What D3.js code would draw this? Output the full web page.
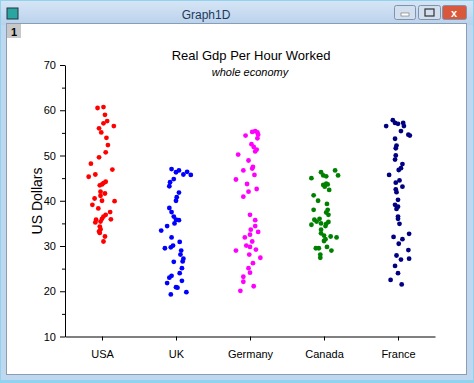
<!DOCTYPE html>
<html><head><meta charset="utf-8">
<script src="https://cdn.jsdelivr.net/npm/d3@7"></script>
<style>body{margin:0;background:#fff}svg{display:block}text{font-family:Arial,"Liberation Sans",sans-serif}</style>
</head><body>
<script>
const categories = ["USA","UK","Germany","Canada","France"];
const colors = ["#ff0000","#0000ff","#ff00ff","#008000","#000080"];
const yTicks = [10,20,30,40,50,60,70];
const usaValues = [60.5,60.7,59.0,57.6,57.1,56.0,56.5,55.1,53.9,52.3,50.7,49.6,48.2,46.9,45.8,45.3,44.2,43.9,43.6,43.4,42.0,41.6,41.1,40.5,40.0,39.9,39.1,38.3,37.5,36.9,36.5,35.9,35.8,36.0,35.4,35.2,34.3,33.7,33.2,32.9,32.1,31.0];
const usaJitter = [-0.06,0.02,0.04,0.07,0.02,-0.04,0.16,-0.01,0.06,0.08,0.05,-0.04,-0.15,0.14,-0.09,-0.18,0.05,0.02,0.0,-0.03,-0.02,0.04,-0.02,-0.10,0.0,0.17,-0.13,-0.05,0.11,0.05,0.02,0.12,-0.08,0.0,-0.02,-0.09,-0.03,-0.02,-0.04,-0.03,0.04,0.02];
const ukValues = [47.0,46.3,46.7,45.8,46.4,45.7,44.8,44.1,43.2,41.8,40.8,40.0,38.4,37.5,36.5,35.8,35.7,35.0,34.4,33.4,31.9,30.9,30.1,29.7,29.5,29.0,28.1,27.2,26.6,26.5,25.1,24.0,23.4,23.0,22.3,21.8,20.9,20.8,19.8,19.3];
const ukJitter = [-0.06,0.0,0.04,0.10,0.15,0.20,-0.03,-0.08,-0.09,0.04,0.01,0.0,-0.09,-0.06,-0.03,0.0,0.04,-0.02,-0.12,-0.20,-0.06,0.05,-0.04,-0.07,-0.15,0.07,0.06,0.10,0.09,-0.03,0.08,0.05,-0.06,-0.09,0.08,-0.12,0.0,0.02,0.14,-0.07];
const germanyValues = [55.2,55.4,55.1,54.6,54.4,53.8,52.5,51.9,51.3,50.9,50.2,48.9,47.5,47.1,46.7,45.7,44.7,43.7,42.6,42.0,40.9,36.9,35.7,34.4,33.6,33.1,32.5,31.9,31.0,30.1,29.8,29.2,29.0,28.1,27.4,26.2,25.1,24.1,23.2,22.1,21.1,20.1];
const germanyJitter = [0.03,0.07,0.10,0.11,-0.06,0.10,0.02,0.05,0.09,0.07,-0.16,-0.02,0.04,0.03,-0.09,0.06,-0.19,-0.04,0.09,-0.02,-0.09,0.0,0.07,0.07,0.01,0.11,0.0,-0.07,0.03,-0.05,0.0,0.08,-0.19,-0.01,0.14,0.04,-0.02,0.0,-0.09,-0.09,0.05,-0.13];
const canadaValues = [46.7,45.6,46.3,45.6,45.4,45.0,43.8,43.5,43.6,43.1,42.4,41.2,40.0,39.3,38.0,38.0,37.4,36.9,36.0,35.8,35.4,35.3,35.0,34.9,34.7,34.4,33.6,32.8,32.3,32.1,31.9,31.5,31.1,29.5,29.5,29.8,29.0,28.1,27.4];
const canadaJitter = [0.15,0.19,-0.04,-0.01,0.03,-0.17,0.03,-0.01,0.05,0.01,0.07,-0.14,-0.08,0.04,0.05,-0.14,0.03,0.06,-0.06,-0.13,-0.10,0.06,-0.04,0.03,-0.17,0.02,-0.04,-0.04,0.0,0.09,0.17,0.02,0.0,-0.11,-0.07,0.04,0.10,-0.05,-0.05];
const franceValues = [57.8,57.2,57.0,57.2,56.5,56.5,55.4,54.6,54.4,53.7,52.2,51.6,50.0,49.1,48.1,47.2,46.8,45.7,44.5,44.0,43.1,42.5,41.9,40.2,39.1,38.7,38.2,36.5,36.0,34.9,32.7,32.0,31.5,30.5,29.1,27.9,27.0,27.2,25.6,24.0,22.5,21.5];
const franceJitter = [-0.07,-0.04,0.0,0.07,0.08,-0.16,0.04,0.14,0.16,-0.04,-0.02,-0.03,-0.03,-0.04,0.06,0.04,0.01,-0.12,0.02,-0.03,0.06,-0.03,-0.02,0.0,-0.04,0.0,-0.02,0.0,0.0,0.02,0.15,-0.06,0.06,0.01,0.14,-0.02,0.04,0.15,-0.04,0.0,-0.10,0.05];
const seriesValues = [usaValues,ukValues,germanyValues,canadaValues,franceValues];
const seriesJitter = [usaJitter,ukJitter,germanyJitter,canadaJitter,franceJitter];

const W=474,H=383;
const svg=d3.select("body").append("svg").attr("width",W).attr("height",H);
const defs=svg.append("defs");
const g1=defs.append("linearGradient").attr("id","tb").attr("x1",0).attr("y1",0).attr("x2",0).attr("y2",1);
g1.append("stop").attr("offset","0%").attr("stop-color","#d6e5f5");
g1.append("stop").attr("offset","100%").attr("stop-color","#b9d1ec");
// window frame
svg.append("rect").attr("x",0).attr("y",0).attr("width",W).attr("height",H).attr("fill","#8fd3ef");
svg.append("rect").attr("x",1).attr("y",1).attr("width",W-2).attr("height",H-4).attr("fill","#bfd7ef");
svg.append("rect").attr("x",1).attr("y",1).attr("width",W-2).attr("height",24).attr("fill","url(#tb)");
svg.append("rect").attr("x",6.5).attr("y",23.5).attr("width",460).attr("height",351).attr("fill","#ffffff").attr("stroke","#8a9db2");
// icon
svg.append("rect").attr("x",7).attr("y",8).attr("width",11).attr("height",11).attr("fill","#2aa6a0").attr("stroke","#234").attr("stroke-width",1);
svg.append("text").attr("x",206).attr("y",19).attr("text-anchor","middle").attr("font-size",12).attr("fill","#1e395b").text("Graph1D");
// buttons
[[394,21,"#d2dfee"],[418,22,"#d2dfee"],[442,24,"#d9573a"]].forEach(b=>{
  svg.append("rect").attr("x",b[0]+0.5).attr("y",5.5).attr("width",b[1]).attr("height",14).attr("rx",2).attr("fill",b[2]).attr("stroke","#7f93ad");
});
svg.append("rect").attr("x",401).attr("y",13).attr("width",8).attr("height",3).attr("fill","#fff").attr("stroke","#555").attr("stroke-width",0.5);
svg.append("rect").attr("x",425).attr("y",9).attr("width",9).attr("height",7).attr("fill","none").attr("stroke","#333").attr("stroke-width",1.2);
svg.append("text").attr("x",454).attr("y",17).attr("text-anchor","middle").attr("font-size",11).attr("font-weight","bold").attr("fill","#fff").text("x");
// layer box
svg.append("rect").attr("x",7).attr("y",24).attr("width",14).attr("height",14).attr("fill","#c8c8c8");
svg.append("text").attr("x",14).attr("y",35.5).attr("text-anchor","middle").attr("font-size",11).attr("font-weight","bold").attr("fill","#000").text("1");

// scales
const x=d3.scaleLinear().domain([0.5,5.5]).range([65,435]);
const y=d3.scaleLinear().domain([10,70]).range([336.5,65]);

const xAxis=svg.append("g").attr("transform","translate(0,336.5)")
  .call(d3.axisBottom(x).tickValues([1,2,3,4,5]).tickFormat((d,i)=>categories[i]).tickSize(4).tickSizeOuter(0));
const yAxis=svg.append("g").attr("transform","translate(65,0)")
  .call(d3.axisLeft(y).tickValues(yTicks).tickSize(5).tickSizeOuter(0));
svg.append("g").attr("transform","translate(65,0)")
  .call(d3.axisLeft(y).tickValues(d3.range(15,70,10)).tickSize(3).tickFormat("").tickSizeOuter(0))
  .select(".domain").remove();
[xAxis,yAxis].forEach(a=>{a.selectAll("path,line").attr("stroke","#000");a.selectAll("text").attr("font-size",11).attr("fill","#000");});
xAxis.selectAll("text").attr("dy","1.3em");
yAxis.selectAll("text").attr("dx","-1px");
svg.selectAll(".tick line").attr("stroke","#000");

svg.append("text").attr("transform","translate(42,201) rotate(-90)").attr("text-anchor","middle").attr("font-size",14).text("US Dollars");
svg.append("text").attr("x",251).attr("y",60).attr("text-anchor","middle").attr("font-size",13).text("Real Gdp Per Hour Worked");
svg.append("text").attr("x",250).attr("y",76).attr("text-anchor","middle").attr("font-size",11).attr("font-style","italic").text("whole economy");

seriesValues.forEach((vals,i)=>{
  svg.append("g").selectAll("circle").data(vals).join("circle")
    .attr("cx",(d,j)=>x(i+1+seriesJitter[i][j]))
    .attr("cy",d=>y(d))
    .attr("r",2.4)
    .attr("fill",colors[i]);
});
</script>
</body></html>
